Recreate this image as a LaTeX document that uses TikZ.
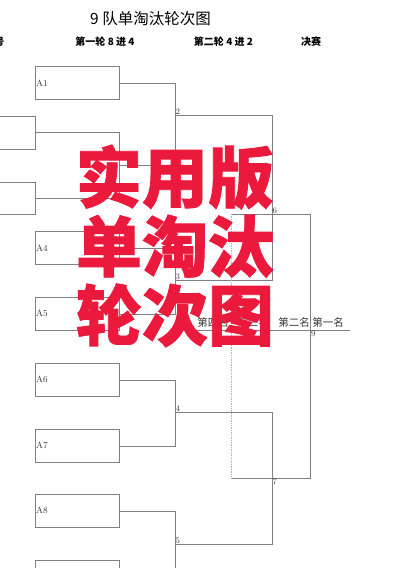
\documentclass[tikz,border=0pt]{standalone}
\usepackage{fontspec}
\newfontfamily\cjk{Noto Sans CJK SC}
\newfontfamily\redfont{Noto Sans CJK SC}[BoldFeatures={FakeBold=1.2}]
\definecolor{lncol}{HTML}{808080}
\definecolor{txtcol}{HTML}{333333}
\definecolor{redtxt}{HTML}{EB1A3D}
\begin{document}
\begin{tikzpicture}[x=1pt,y=-1pt,
  ln/.style={draw=lncol, line width=0.7pt},
  team/.style={draw=lncol, line width=0.7pt, minimum width=84pt, minimum height=33pt, inner sep=0pt, anchor=north west},
  tlabel/.style={text=txtcol, font=\fontsize{9}{10}\selectfont, inner sep=1pt, anchor=west},
  mlabel/.style={text=txtcol, font=\fontsize{8.5}{9}\selectfont, inner sep=0.5pt, anchor=west},
  head/.style={text=black, font=\cjk\bfseries\fontsize{10}{12}\selectfont, inner sep=0pt},
  place/.style={text=txtcol, font=\cjk\fontsize{10.5}{12}\selectfont, inner sep=0pt}]
\clip (0,0) rectangle (400,568);
\fill[white] (0,0) rectangle (400,568);
% titles
\node[text=black, font=\cjk\fontsize{15.5}{18}\selectfont, inner sep=0pt] (title) at (150.5,19) {9 队单淘汰轮次图};
\node[head, anchor=east] (h0) at (4.5,42) {号};
\node[head] (h1) at (105,42) {第一轮 8 进 4};
\node[head] (h2) at (223.5,42) {第二轮 4 进 2};
\node[head] (h3) at (311,42) {决赛};
% team boxes
\node[team] (A1) at (35,66) {};
\node[team] (A4) at (35,231) {};
\node[team] (A5) at (35,297) {};
\node[team] (A6) at (35,363) {};
\node[team] (A7) at (35,429) {};
\node[team] (A8) at (35,494) {};
\node[team] (A9) at (35,560) {};
\foreach \n in {A1,A4,A5,A6,A7,A8}{\node[tlabel] at (\n.west) {\n};}
% coordinates
\coordinate (q1) at (0,116); \coordinate (q2) at (0,149);
\coordinate (q3) at (0,182); \coordinate (q4) at (0,214);
\coordinate (p1) at (35,132); \coordinate (p2) at (35,198);
\coordinate (m1) at (119,165);
\coordinate (m2) at (175,115);
\coordinate (m3) at (175,280);
\coordinate (m4) at (175,412);
\coordinate (m5) at (175,544);
\coordinate (m6) at (272,214);
\coordinate (m7) at (272,478);
\coordinate (t1) at (231,214); \coordinate (t2) at (231,478);
\coordinate (f) at (310,330);
\coordinate (fl) at (195,330); \coordinate (fr) at (350,330);
% left brackets
\draw[ln] (q1) -| (p1); \draw[ln] (q2) -| (p1);
\draw[ln] (q3) -| (p2); \draw[ln] (q4) -| (p2);
% match 1
\draw[ln] (p1) -| (m1); \draw[ln] (p2) -| (m1);
% first round
\draw[ln] (A1.east) -| (m2); \draw[ln] (m1) -| (m2);
\draw[ln] (A4.east) -| (m3); \draw[ln] (A5.east) -| (m3);
\draw[ln] (A6.east) -| (m4); \draw[ln] (A7.east) -| (m4);
\draw[ln] (A8.east) -| (m5); \draw[ln] (A9.east) -| (m5);
% second round
\draw[ln] (m2) -| (m6); \draw[ln] (m3) -| (m6);
\draw[ln] (m4) -| (m7); \draw[ln] (m5) -| (m7);
% final
\draw[ln] (m6) -| (f); \draw[ln] (m7) -| (f);
\draw[ln] (fl) -- (fr);
% third place
\draw[ln] (t1) -- (m6); \draw[ln] (t2) -- (m7);
\draw[draw=lncol!60, line width=0.7pt, densely dotted] (t1) -- (t2);
% match labels
\node[mlabel, anchor=south west] at (m2) {2};
\node[mlabel, anchor=south west] at (m3) {3};
\node[mlabel, anchor=south west] at (m4) {4};
\node[mlabel, anchor=south west] at (m5) {5};
\node[mlabel, anchor=south west] at (m6) {6};
\node[mlabel, anchor=north west] at (m7) {7};
\node[mlabel, anchor=north west] at ([xshift=0.5pt]f) {9};
% places
\node[place] (p4) at (213,322) {第四名};
\node[place] (p3) at (253,322) {第三名};
\node[place] (p2n) at (294,322) {第二名};
\node[place] (p1n) at (328,322) {第一名};
% red overlay
\node[text=redtxt, font=\redfont\bfseries\fontsize{66}{69}\selectfont, align=center, inner sep=0pt] (red) at (175,246) {实用版\\单淘汰\\轮次图};
\end{tikzpicture}
\end{document}
